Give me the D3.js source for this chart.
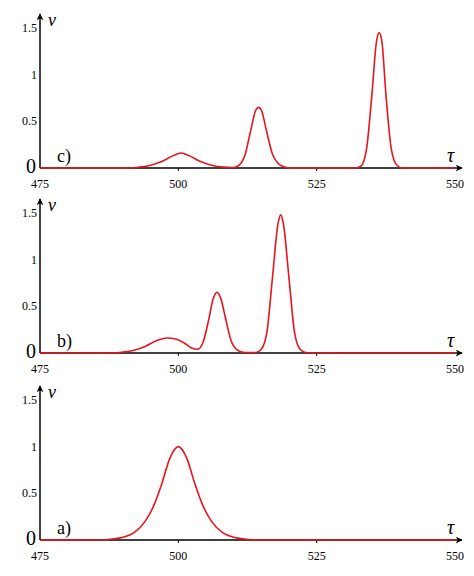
<!DOCTYPE html>
<html><head><meta charset="utf-8">
<script src="https://cdn.jsdelivr.net/npm/d3@7"></script>
<style>body{margin:0;background:#fff}svg{display:block}</style>
</head><body>
<svg id="chart" width="474" height="576"></svg>
<script>
const seriesA = [[475,0],[486,0],[488,0.01],[490,0.03],[492,0.08],[494,0.2],[495.5,0.36],[497,0.6],[498.5,0.88],[500,1.0],[501.5,0.88],[503,0.6],[504.5,0.36],[506,0.2],[508,0.08],[510,0.03],[512,0.01],[514,0],[550,0]];
const seriesB = [[475,0],[488,0],[490,0.01],[492,0.03],[494,0.07],[496,0.13],[498,0.16],[499.5,0.15],[501,0.11],[502.5,0.05],[503.5,0.04],[504.5,0.12],[505.5,0.36],[506.3,0.58],[507,0.65],[507.7,0.58],[508.5,0.38],[509.5,0.14],[510.5,0.04],[512,0.005],[514,0.005],[515,0.04],[516,0.22],[517,0.8],[518,1.38],[518.5,1.48],[519,1.38],[520,0.8],[521,0.22],[522,0.04],[523,0.005],[524,0],[550,0]];
const seriesC = [[475,0],[491,0],[493,0.01],[495,0.03],[497,0.07],[499,0.13],[500.5,0.16],[502,0.13],[504,0.07],[506,0.03],[508,0.01],[510,0.005],[511,0.03],[512,0.13],[513,0.38],[514,0.62],[514.5,0.65],[515,0.62],[516,0.38],[517,0.15],[518,0.05],[519,0.015],[520,0],[532,0],[533,0.02],[534,0.2],[535,0.8],[535.8,1.35],[536.3,1.45],[536.8,1.35],[537.5,0.8],[538.5,0.2],[539.5,0.03],[540.5,0],[550,0]];
const panels = [
  {label: 'c)', data: seriesC, zeroY: 168},
  {label: 'b)', data: seriesB, zeroY: 353},
  {label: 'a)', data: seriesA, zeroY: 540}
];
const xTicks = [475, 500, 525, 550];
const yTicks = [0.5, 1, 1.5];

const svg = d3.select('#chart');
const x = d3.scaleLinear().domain([475, 550]).range([40, 455]);

svg.append('defs').append('marker')
  .attr('id', 'arr').attr('viewBox', '0 0 10 10').attr('refX', 9).attr('refY', 5)
  .attr('markerWidth', 9).attr('markerHeight', 7).attr('markerUnits', 'userSpaceOnUse')
  .attr('orient', 'auto')
  .append('path').attr('d', 'M0,0L10,5L0,10L3,5Z').attr('fill', '#000');

panels.forEach(p => {
  const y = d3.scaleLinear().domain([0, 1.5]).range([p.zeroY, p.zeroY - 140]);
  const g = svg.append('g').attr('font-family', '"Liberation Serif", "DejaVu Serif", serif');

  g.append('line').attr('x1', x(475)).attr('x2', 462).attr('y1', y(0)).attr('y2', y(0))
    .attr('stroke', '#000').attr('stroke-width', 1.5).attr('marker-end', 'url(#arr)');
  g.append('line').attr('x1', x(475)).attr('x2', x(475)).attr('y1', y(0)).attr('y2', y(1.5) - 14)
    .attr('stroke', '#000').attr('stroke-width', 1.5).attr('marker-end', 'url(#arr)');

  g.selectAll('.xt').data(xTicks).enter().append('text')
    .attr('x', d => x(d)).attr('y', y(0) + 20).attr('text-anchor', 'middle')
    .attr('font-size', 12).text(d => d);
  g.selectAll('.xm').data(xTicks.slice(1, 3)).enter().append('line')
    .attr('x1', d => x(d)).attr('x2', d => x(d)).attr('y1', y(0)).attr('y2', y(0) + 3)
    .attr('stroke', '#000');
  g.selectAll('.yt').data(yTicks).enter().append('text')
    .attr('x', x(475) - 3).attr('y', d => y(d) + 4).attr('text-anchor', 'end')
    .attr('font-size', 12).text(d => d);
  g.append('text').attr('x', x(475) - 4).attr('y', y(0) + 5).attr('text-anchor', 'end')
    .attr('font-size', 20).text('0');
  g.append('text').attr('x', 48).attr('y', y(1.5) - 2).attr('font-size', 18)
    .attr('font-style', 'italic').text('v');
  g.append('text').attr('x', 447).attr('y', y(0) - 6).attr('font-size', 20)
    .attr('font-style', 'italic').text('τ');
  g.append('text').attr('x', 57).attr('y', y(0) - 6).attr('font-size', 18).text(p.label);

  g.append('path').datum(p.data)
    .attr('d', d3.line().x(d => x(d[0])).y(d => y(d[1])).curve(d3.curveMonotoneX))
    .attr('fill', 'none').attr('stroke', '#e8141c').attr('stroke-width', 1.6);
});
</script>
</body></html>
